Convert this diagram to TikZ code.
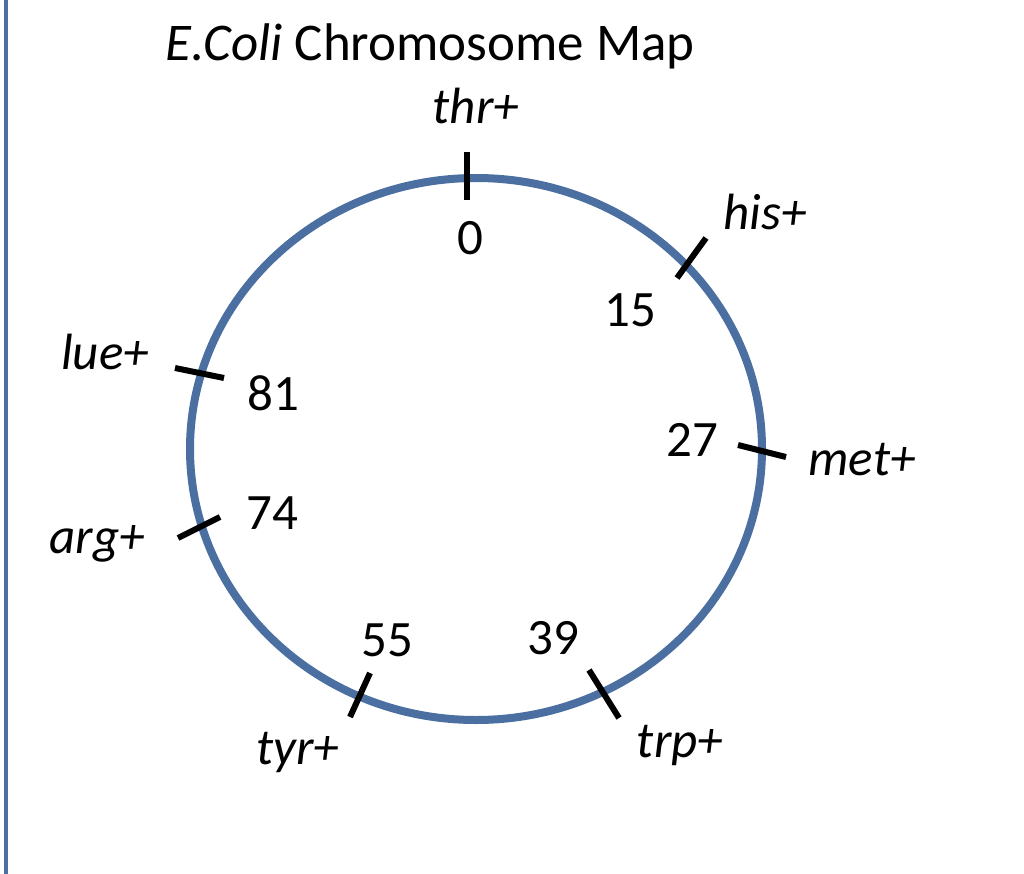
\documentclass[tikz,border=0pt]{standalone}
\usepackage{fontspec}
\setmainfont{Carlito}
\definecolor{cblue}{RGB}{74,111,160}
\begin{document}
\begin{tikzpicture}[x=1pt,y=-1pt,
  lab/.style={font=\fontsize{51}{54}\selectfont\itshape},
  num/.style={font=\fontsize{51}{54}\selectfont},
  tick/.style={line width=6pt,black}]
\useasboundingbox (0,0) rectangle (1024,874);
\draw[cblue,line width=4pt] (6,0) -- (6,874);
\draw[cblue,line width=8pt] (476,449) ellipse [x radius=286, y radius=271];
\node[font=\fontsize{53}{56}\selectfont] (t) at (430,46) {\textit{E.Coli} Chromosome Map};
\coordinate (a1) at (467,152); \coordinate (a2) at (467,200); \draw[tick] (a1)--(a2);
\coordinate (b1) at (677,278); \coordinate (b2) at (706,238); \draw[tick] (b1)--(b2);
\coordinate (c1) at (738,445); \coordinate (c2) at (786,457); \draw[tick] (c1)--(c2);
\coordinate (d1) at (589,670); \coordinate (d2) at (619,718); \draw[tick] (d1)--(d2);
\coordinate (e1) at (350,717); \coordinate (e2) at (370,673); \draw[tick] (e1)--(e2);
\coordinate (f1) at (178,538); \coordinate (f2) at (220,517); \draw[tick] (f1)--(f2);
\coordinate (g1) at (175,368); \coordinate (g2) at (224,378); \draw[tick] (g1)--(g2);
\node[lab] (thr) at (476,106) {thr+};
\node[num] (n0) at (470,238) {0};
\node[lab] (his) at (765,212) {his+};
\node[num] (n15) at (630,310) {15};
\node[lab] (lue) at (105,352) {lue+};
\node[num] (n81) at (273,393) {81};
\node[num] (n27) at (692,440) {27};
\node[lab] (met) at (862,460) {met+};
\node[num] (n74) at (272,513) {74};
\node[lab] (arg) at (97,544) {arg+};
\node[num] (n55) at (387,640) {55};
\node[num] (n39) at (553,638) {39};
\node[lab] (tyr) at (298,752) {tyr+};
\node[lab] (trp) at (680,745) {trp+};
\end{tikzpicture}
\end{document}
